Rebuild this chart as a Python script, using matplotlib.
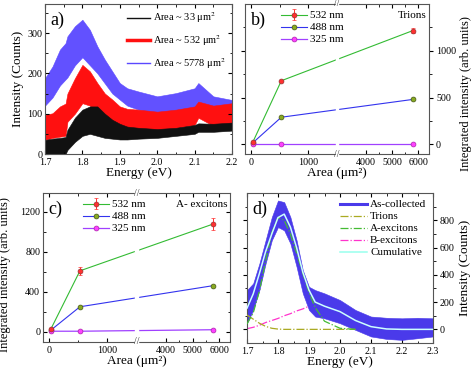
import numpy as np
import matplotlib
matplotlib.use("Agg")
import matplotlib.pyplot as plt
from matplotlib.lines import Line2D
from matplotlib.patches import Rectangle

plt.rcParams['font.family'] = ['Liberation Serif', 'DejaVu Serif']
plt.rcParams['mathtext.fontset'] = 'stix'

# ---- panel a: spectra (upper / lower envelope of the noisy traces) ----
ea = [1.70, 1.72, 1.74, 1.755, 1.76, 1.78, 1.80, 1.82, 1.84, 1.86, 1.88, 1.90,
      1.92, 1.95, 2.00, 2.05, 2.10, 2.11, 2.15, 2.20]
blue_hi = [188, 217, 259, 275, 292, 317, 333, 308, 267, 234, 205, 176,
           163, 155, 143, 151, 163, 176, 143, 134]
blue_lo = [120, 140, 170, 185, 190, 220, 240, 220, 200, 175, 150, 135,
           120, 110, 100, 98, 95, 110, 90, 85]
red_hi = [97, 101, 118, 125, 150, 188, 221, 205, 176, 150, 135, 118,
          112, 110, 105, 110, 118, 130, 120, 126]
red_lo = [35, 40, 43, 45, 80, 100, 126, 120, 101, 85, 76, 70,
          66, 62, 58, 64, 72, 90, 70, 62]
blk_hi = [35, 38, 40, 42, 60, 90, 110, 118, 118, 100, 85, 75,
          68, 65, 62, 65, 72, 76, 75, 78]
blk_lo = [0, 0, 0, 0, 10, 30, 45, 50, 45, 40, 38, 36,
          36, 38, 40, 45, 50, 55, 55, 58]

# ---- panels b, c: integrated intensity vs area ----
area = [33, 532, 5778]
trion_532 = [20, 680, 1215]
trion_532_err = [0, 0, 30]
trion_488 = [15, 290, 480]
trion_325 = [0, 0, 0]
aexc_532 = [25, 610, 1080]
aexc_532_err = [0, 40, 60]
aexc_488 = [15, 250, 462]
aexc_325 = [5, 5, 20]

# ---- panel d: spectrum and fitted components ----
ed = [1.70, 1.72, 1.74, 1.76, 1.78, 1.80, 1.82, 1.84, 1.86, 1.88, 1.90,
      1.92, 1.95, 2.00, 2.05, 2.10, 2.15, 2.20, 2.25, 2.30]
meas_hi = [288, 337, 483, 653, 823, 945, 933, 823, 653, 434, 312,
           288, 264, 215, 142, 94, 85, 81, 85, 81]
meas_lo = [45, 142, 288, 483, 653, 750, 726, 629, 458, 264, 142,
           94, 81, 45, -4, -52, -70, -77, -65, -52]
cumul = [155, 260, 410, 570, 700, 820, 845, 750, 600, 420, 288,
         200, 170, 130, 65, 20, 3, 0, 0, 0]
trions = [105, 75, 45, 22, 8, 2, 0, 0, 0, 0, 0, 0, 0, 0, 0]
trions_e = ed[:15]
aexc = [40, 120, 280, 500, 710, 820, 800, 700, 560, 410, 270,
        160, 60, 8, 0]
aexc_e = ed[:15]
bexc = [5, 15, 30, 50, 65, 80, 100, 115, 135, 150, 170,
        180, 190, 170, 110, 40, 8, 0, 0, 0]

# broken area axis: -100..1500 on the left half, 2900..6400 on the right half
X0, X1, X2, X3 = -100, 1500, 2900, 6400


def fwd(x):
    x = np.asarray(x, float)
    lo = (x - X0) / (X1 - X0) * 0.5
    hi = 0.5 + (x - X2) / (X3 - X2) * 0.5
    return np.where(x < X1, lo, np.where(x > X2, hi, 0.5))


def inv(u):
    u = np.asarray(u, float)
    return np.where(u < 0.5, X0 + u * 2 * (X1 - X0), X2 + (u - 0.5) * 2 * (X3 - X2))


W, H = 474, 375
fig = plt.figure(figsize=(W / 100, H / 100), dpi=100)


def box(l, r, t, b):
    return [l / W, 1 - b / H, (r - l) / W, (b - t) / H]


TK = 7.2
LB = 9.5


def style(ax, right_labels=False):
    ax.tick_params(which='both', direction='in', top=True, right=True,
                   labelsize=TK, pad=2)
    ax.tick_params(which='major', length=3)
    ax.tick_params(which='minor', length=1.8)
    if right_labels:
        ax.tick_params(axis='y', which='both', labelleft=False, labelright=True)
    for s in ax.spines.values():
        s.set_color('#555555')
        s.set_linewidth(0.8)


def axis_break(ax):
    ax.add_patch(Rectangle((0.493, -0.02), 0.014, 1.04, transform=ax.transAxes,
                           color='white', zorder=5, clip_on=False))
    for yy in (0, 1):
        ax.text(0.5, yy, '//', transform=ax.transAxes, ha='center', va='center',
                fontsize=7, zorder=6, color='#333333')


# ---------------- a ----------------
ax = fig.add_axes(box(45, 232, 4, 154))
ax.fill_between(ea, blue_lo, blue_hi, color='#5a48ff', lw=0.4, alpha=0.95)
ax.fill_between(ea, red_lo, red_hi, color='#ff1010', lw=0.4)
ax.fill_between(ea, blk_lo, blk_hi, color='#111111', lw=0.4)
ax.set_xlim(1.7, 2.2)
ax.set_ylim(0, 372)
ax.set_xticks([1.7, 1.8, 1.9, 2.0, 2.1, 2.2])
ax.set_xticks(np.arange(1.75, 2.2, 0.1), minor=True)
ax.set_yticks([0, 100, 200, 300])
ax.set_yticks([50, 150, 250, 350], minor=True)
style(ax)
ax.tick_params(axis='x', pad=3)
ax.set_xlabel('Energy (eV)', fontsize=LB, labelpad=0)
ax.set_ylabel('Intensity (Counts)', fontsize=LB, labelpad=2)
ax.text(0.03, 0.95, 'a)', transform=ax.transAxes, fontsize=13, va='top')
hand = [Line2D([], [], color='#111111', lw=1.0),
        Line2D([], [], color='#ff1010', lw=2.5),
        Line2D([], [], color='#5a48ff', lw=1.0)]
ax.legend(hand, ['Area ~ 33 μm$^2$', 'Area ~ 532 μm$^2$', 'Area ~ 5778 μm$^2$'],
          loc='upper right', frameon=False, fontsize=7.5, handlelength=2.2,
          handletextpad=0.3, labelspacing=0.75, borderaxespad=0.2)

# ---------------- b / c ----------------
c532, c488, c325 = '#33bb33', '#3333ee', '#a040ff'
m532, m488, m325 = '#ff3030', '#88aa22', '#ff40ff'


def area_panel(ax, y532, e532, y488, y325, ylim, yt, ytm, tag, label, right, lx):
    ax.set_xscale('function', functions=(fwd, inv))
    h1 = ax.errorbar(area, y532, yerr=e532, color=c532, lw=0.8, marker='o', ms=3.5,
                     mfc=m532, mec='#993333', mew=0.5, ecolor=m532, elinewidth=0.7,
                     capsize=1.5)
    h2, = ax.plot(area, y488, color=c488, lw=0.8, marker='o', ms=3.5, mfc=m488,
                  mec='#445511', mew=0.5)
    h3, = ax.plot(area, y325, color=c325, lw=0.9, marker='o', ms=3.5, mfc=m325,
                  mec='#aa22aa', mew=0.5)
    ax.set_xlim(X0, X3)
    ax.set_ylim(*ylim)
    ax.set_xticks([0, 1000, 4000, 5000, 6000], ['0', '1000', '4000', '5000', '6000'])
    ax.set_xticks([500, 4500, 5500], minor=True)
    ax.set_yticks(yt)
    ax.set_yticks(ytm, minor=True)
    style(ax, right_labels=right)
    ax.tick_params(axis='x', pad=3)
    ax.set_xlabel('Area (μm²)', fontsize=LB, labelpad=0)
    ax.text(0.03, 0.95, tag, transform=ax.transAxes, fontsize=13, va='top')
    ax.text(0.985, 0.95, label, transform=ax.transAxes, fontsize=8, va='top', ha='right')
    axis_break(ax)
    ax.legend([h1, h2, h3], ['532 nm', '488 nm', '325 nm'], loc='upper left',
              bbox_to_anchor=(lx, 1.0), frameon=False, fontsize=8,
              handlelength=2.3, handletextpad=0.3, labelspacing=0.2, borderaxespad=0.2)


ax = fig.add_axes(box(245, 429, 4, 154))
area_panel(ax, trion_532, trion_532_err, trion_488, trion_325, (-103, 1500),
           [0, 500, 1000], [250, 750, 1250], 'b)', 'Trions', True, 0.16)
ax.tick_params(axis='y', which='both', direction='out', right=True, left=True)
ax.yaxis.set_label_position('right')
ax.set_ylabel('Integrated intensity (arb. units)', fontsize=9, labelpad=3)
ax.yaxis.set_label_coords(1.17, 0.40)

ax = fig.add_axes(box(43, 230, 193, 342))
area_panel(ax, aexc_532, aexc_532_err, aexc_488, aexc_325, (-103, 1390),
           [0, 400, 800, 1200], [200, 600, 1000], 'c)', 'A- excitons', False, 0.18)
ax.set_ylabel('Integrated intensity (arb. units)', fontsize=9, labelpad=1)
ax.yaxis.set_label_coords(-0.17, 0.45)

# ---------------- d ----------------
ax = fig.add_axes(box(247, 433, 193, 343))
ax.plot(ed, bexc, color='#ff33cc', lw=0.9, ls='-.', zorder=1)
ax.fill_between(ed, meas_lo, meas_hi, color='#4a3aea', lw=0.4, zorder=2)
ax.plot(trions_e, trions, color='#aaaa22', lw=0.9, ls='-.', zorder=3)
ax.plot(aexc_e, aexc, color='#44bb33', lw=0.9, ls='-.', zorder=3)
ax.plot(ed, cumul, color='#ccffff', lw=1.1, zorder=4)
ax.set_xlim(1.7, 2.3)
ax.set_ylim(-100, 1000)
ax.set_xticks([1.7, 1.8, 1.9, 2.0, 2.1, 2.2, 2.3])
ax.set_xticks(np.arange(1.75, 2.3, 0.1), minor=True)
ax.set_yticks([0, 200, 400, 600, 800])
ax.set_yticks([100, 300, 500, 700, 900], minor=True)
style(ax, right_labels=True)
ax.tick_params(axis='x', pad=3)
ax.tick_params(axis='y', which='both', direction='out')
ax.yaxis.set_label_position('right')
ax.set_xlabel('Energy (eV)', fontsize=LB, labelpad=0)
ax.set_ylabel('Intensity (Counts)', fontsize=LB, labelpad=3)
ax.text(0.03, 0.95, 'd)', transform=ax.transAxes, fontsize=13, va='top')
hand = [Line2D([], [], color='#4a3aea', lw=2.2),
        Line2D([], [], color='#aaaa22', lw=0.9, ls='-.'),
        Line2D([], [], color='#44bb33', lw=0.9, ls='-.'),
        Line2D([], [], color='#ff33cc', lw=0.9, ls='-.'),
        Line2D([], [], color='#99ffee', lw=1.1)]
ax.legend(hand, ['As-collected', 'Trions', 'A-excitons', 'B-excitons', 'Cumulative'],
          loc='upper right', frameon=False, fontsize=8, handlelength=2.4,
          handletextpad=0.3, labelspacing=0.2, borderaxespad=0.2)

fig.savefig('out.png', dpi=100)
